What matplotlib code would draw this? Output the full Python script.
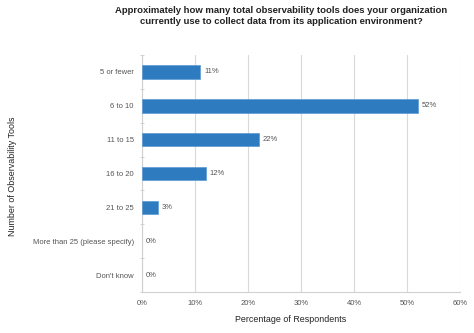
import numpy as np
import matplotlib
matplotlib.use("Agg")
import matplotlib.pyplot as plt

plt.rcParams['font.family'] = ['Liberation Sans', 'DejaVu Sans']

# survey answers and share of respondents (%)
categories = ["5 or fewer", "6 to 10", "11 to 15", "16 to 20", "21 to 25",
              "More than 25 (please specify)", "Don't know"]
values = [11, 52, 22, 12, 3, 0, 0]
xticks = [0, 10, 20, 30, 40, 50, 60]

fig = plt.figure(figsize=(4.74, 3.33), dpi=100)
ax = fig.add_axes([142 / 474, 1 - 292 / 333, 318 / 474, 237 / 333])

y = np.arange(len(categories))
ax.barh(y, values, height=0.4, color="#2e7bbf", edgecolor="#5a9ad2",
        linewidth=[0.5 if v > 0 else 0 for v in values], zorder=3)
for yi, v in zip(y, values):
    ax.text(v + 0.7, yi, f"{v}%", va="center", ha="left", fontsize=5.5, color="#555555")

ax.set_xlim(0, 60)
ax.set_ylim(len(categories) - 0.5, -0.5)
ax.set_xticks(xticks)
ax.set_xticklabels([f"{t}%" for t in xticks])
ax.set_yticks(y)
ax.set_yticklabels(categories)
ax.set_yticks(np.arange(len(categories) + 1) - 0.5, minor=True)
ax.tick_params(axis="both", which="major", length=0, labelsize=5.5, labelcolor="#555555")
ax.tick_params(axis="x", pad=6)
ax.tick_params(axis="y", pad=6)
ax.tick_params(axis="y", which="minor", length=3, color="#cccccc", direction="inout")
ax.grid(axis="x", color="#d9d9d9", linewidth=0.8, zorder=0)

for side in ["top", "right"]:
    ax.spines[side].set_visible(False)
for side in ["left", "bottom"]:
    ax.spines[side].set_color("#d0d0d0")
    ax.spines[side].set_linewidth(0.8)

fig.text(281 / 474, 1 - 16 / 333,
         "Approximately how many total observability tools does your organization\n"
         "currently use to collect data from its application environment?",
         ha="center", va="center", fontsize=6.8, fontweight="bold", color="#222222",
         linespacing=1.3)
fig.text(291 / 474, 1 - 319 / 333, "Percentage of Respondents",
         ha="center", va="center", fontsize=6.4, color="#222222")
fig.text(13 / 474, 1 - 176 / 333, "Number of Observability Tools",
         ha="center", va="center", rotation=90, fontsize=6.4, color="#222222")

fig.savefig("out.png", dpi=100)
